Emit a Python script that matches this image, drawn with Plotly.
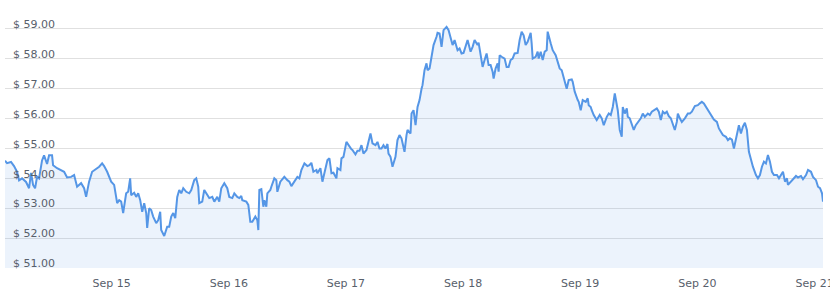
import pandas as pd
import plotly.graph_objects as go

# hours after 2023-09-14 00:00
hours = [
    2.15, 2.56, 3.38, 4.00, 4.62, 5.03, 5.64, 6.46, 7.08, 7.49, 7.90, 8.31, 8.72, 9.13, 9.74,
    10.15, 10.77, 11.18, 11.79, 12.00, 12.82, 13.64, 14.26, 14.87, 15.69, 16.31, 16.92, 17.74,
    18.36, 18.77, 19.38, 20.00, 20.82, 21.44, 22.05, 22.46, 23.08, 23.90,
    24.51, 25.13, 25.54, 25.95, 26.36, 26.97, 27.38, 27.79, 28.00, 28.62, 29.03, 29.44, 29.85,
    30.26, 30.67, 31.08, 31.28, 31.69, 32.10, 32.51, 33.13, 33.54, 33.95, 34.15, 34.77, 35.38,
    35.79, 36.21, 36.62, 37.03, 37.44, 37.85, 38.26, 38.67, 39.28, 39.90, 40.31, 40.92, 41.33,
    41.74, 41.95, 42.56, 42.97, 43.59, 44.00, 44.62, 45.03, 45.64, 46.05, 46.46, 47.08, 47.69,
    48.10, 48.72,
    49.13, 49.74, 50.15, 50.56, 50.77, 51.59, 52.00, 52.41, 52.82, 53.44, 53.85, 54.05, 54.26,
    54.67, 55.08, 55.28, 55.69, 55.90, 56.51, 56.72, 57.33, 57.74, 57.95, 58.56, 58.97, 59.38,
    60.00, 60.41, 60.82, 61.44, 62.05, 62.46, 62.87, 63.49, 64.10, 64.51, 64.92, 65.33, 65.95,
    66.15, 66.77, 67.18, 67.79, 68.21, 68.62, 69.03, 69.44, 70.05, 70.26, 70.87, 71.08, 71.49,
    72.10, 72.51, 73.13, 73.33, 73.95, 74.36,
    74.77, 75.18, 75.59, 76.21, 76.62, 77.03, 77.44, 78.05, 78.46, 78.87, 79.28, 79.69, 80.10,
    80.51, 80.72, 81.13, 81.54, 82.15, 82.56, 82.97, 83.38, 84.00, 84.41, 84.62, 85.23, 85.44,
    85.85, 86.26, 86.67, 87.08, 87.49, 87.69, 88.10, 88.51, 88.72, 89.13, 89.54, 89.95, 90.56,
    90.77, 91.18, 91.59, 92.00, 92.62, 93.03, 93.44, 93.85, 94.26, 94.87, 95.28, 95.69, 96.10,
    96.72, 96.92, 97.54, 97.95,
    98.36, 98.97, 99.18, 99.79, 100.00, 100.41, 100.82, 101.23, 101.64, 102.05, 102.26, 102.67,
    103.08, 103.28, 103.49, 103.90, 104.51, 104.92, 105.33, 105.74, 106.15, 106.56, 107.18,
    107.59, 108.00, 108.41, 108.82, 109.23, 109.85, 110.05, 110.26, 110.87, 111.28, 111.49,
    111.90, 112.31, 112.72, 113.13, 113.33, 113.95, 114.36, 114.97, 115.38, 115.79, 116.21,
    116.82, 117.23, 117.64, 118.26, 118.46, 118.87, 119.49, 119.69, 120.10, 120.51, 121.13,
    121.54, 121.74, 122.15, 122.36, 122.77, 123.38,
    124.00, 124.41, 124.82, 125.44, 125.85, 126.26, 126.67, 127.08, 127.49, 127.69, 128.10,
    128.51, 128.72, 129.13, 129.54, 129.74, 130.15, 130.56, 130.97, 131.38, 131.79, 132.41,
    132.82, 133.23, 133.85, 134.26, 134.67, 135.08, 135.69, 136.10, 136.51, 136.92, 137.33,
    137.74, 138.15, 138.56, 138.97, 139.38, 139.79, 140.00, 140.41, 140.82, 141.44, 142.05,
    142.46, 142.87, 143.49, 144.10, 144.51, 144.92, 145.33, 145.95, 146.36, 146.97, 147.38,
    148.00, 148.41, 148.82, 149.23, 149.85, 150.26, 150.67, 151.08, 151.49, 152.10, 152.51,
    152.92, 153.33, 153.74, 154.15, 154.56, 155.18, 155.38, 156.00, 156.41, 156.82, 157.23,
    157.64, 158.05, 158.46, 158.87, 159.28, 159.69, 160.31, 160.72, 161.13, 161.54, 161.95,
    162.36, 162.56, 163.18, 163.59, 164.21, 164.62, 165.23, 165.64, 166.26, 166.67, 167.28,
    167.69, 168.31, 168.72, 169.13, 169.54, 169.74,
]

prices = [
    54.59, 54.51, 54.55, 54.41, 54.22, 53.93, 54.00, 53.88, 53.67, 54.18, 53.78, 53.67, 54.05, 54.00, 54.60,
    54.77, 54.48, 54.77, 54.77, 54.44, 54.34, 54.28, 54.22, 54.03, 54.05, 54.11, 53.72, 53.84,
    53.67, 53.38, 53.89, 54.22, 54.31, 54.39, 54.50, 54.41, 54.22, 53.89,
    53.78, 53.17, 53.27, 53.22, 52.84, 53.50, 53.55, 54.00, 53.44, 53.52, 53.38, 53.50, 53.27,
    52.88, 53.17, 52.84, 52.34, 53.00, 52.94, 52.72, 52.50, 52.60, 52.88, 52.27, 52.07, 52.38,
    52.38, 52.72, 52.84, 52.67, 53.38, 53.61, 53.50, 53.67, 53.55, 53.50, 53.61, 53.94, 54.00,
    53.72, 53.17, 53.22, 53.61, 53.44, 53.34, 53.38, 53.22, 53.38, 53.22, 53.67, 53.84, 53.67,
    53.38, 53.34,
    53.50, 53.38, 53.34, 53.41, 53.27, 53.22, 53.11, 52.55, 52.55, 52.72, 52.60, 52.27, 53.61,
    53.64, 53.05, 53.27, 53.05, 53.50, 53.61, 53.72, 54.00, 53.94, 53.55, 53.89, 53.97, 54.05,
    53.94, 53.89, 53.74, 53.89, 54.05, 54.00, 54.28, 54.50, 54.41, 54.44, 54.52, 54.22, 54.28,
    54.17, 54.34, 53.89, 54.28, 54.61, 54.67, 54.17, 54.19, 54.00, 54.34, 54.28, 54.67, 54.72,
    55.22, 55.11, 54.97, 54.95, 54.80, 54.92,
    54.92, 55.11, 54.83, 54.95, 55.28, 55.50, 55.17, 55.11, 55.22, 55.00, 55.00, 55.11, 55.00,
    55.15, 54.83, 54.72, 54.39, 54.72, 55.28, 55.45, 55.34, 54.89, 55.45, 55.62, 55.50, 56.17,
    56.28, 55.78, 56.39, 56.62, 57.00, 57.12, 57.62, 57.85, 57.62, 57.68, 58.07, 58.46, 58.74,
    58.87, 58.85, 58.40, 58.96, 59.07, 58.96, 58.68, 58.46, 58.63, 58.29, 58.35, 58.18, 58.20,
    58.52, 58.63, 58.24, 58.40,
    58.63, 58.46, 58.54, 57.96, 57.73, 57.96, 58.18, 57.79, 57.79, 57.57, 57.34, 57.68,
    57.85, 57.57, 58.12, 58.07, 58.01, 57.73, 57.73, 57.96, 58.01, 58.18, 58.20,
    58.63, 58.91, 58.79, 58.46, 58.57, 58.87, 58.52, 58.01, 58.07, 58.24, 58.01,
    58.24, 57.96, 58.24, 58.29, 58.91, 58.52, 58.29, 58.12, 57.90, 57.68, 57.62,
    57.29, 57.00, 57.29, 57.31, 57.23, 56.90, 56.62, 56.56, 56.28, 56.62, 56.56,
    56.68, 56.45, 56.39, 56.28, 56.12, 55.95,
    56.12, 56.01, 55.78, 56.06, 56.17, 56.12, 56.39, 56.84, 56.45, 56.28, 55.62,
    55.39, 56.39, 56.17, 56.34, 56.06, 56.01, 55.84, 55.62, 55.78, 55.89, 56.01,
    56.17, 56.06, 56.17, 56.12, 56.23, 56.28, 56.34, 56.23, 55.95, 56.23, 56.17,
    56.23, 56.08, 56.01, 55.84, 55.62, 55.89, 56.17, 56.01, 55.89, 56.01, 56.17,
    56.17, 56.23, 56.42, 56.45, 56.51, 56.56, 56.51, 56.34, 56.23, 56.06, 55.97,
    55.89, 55.67, 55.56, 55.45, 55.39, 55.28, 55.34, 55.30, 55.00, 55.45, 55.78,
    55.50, 55.73, 55.86, 55.62, 54.89, 54.50, 54.39, 54.11, 54.00, 54.11, 54.39,
    54.56, 54.50, 54.78, 54.56, 54.22, 54.11, 54.11, 54.00, 54.11, 54.22, 53.89,
    54.00, 53.78, 53.89, 53.94, 54.08, 54.03, 54.08, 53.97, 54.11, 54.28, 54.22,
    54.05, 53.94, 53.72, 53.67, 53.50, 53.22,
]

y_ticks = [51, 52, 53, 54, 55, 56, 57, 58, 59]
y_tick_text = ["$ 51.00", "$ 52.00", "$ 53.00", "$ 54.00", "$ 55.00",
               "$ 56.00", "$ 57.00", "$ 58.00", "$ 59.00"]
start = pd.Timestamp("2023-09-14 00:00")
times = start + pd.to_timedelta(hours, unit="h")

fig = go.Figure(
    go.Scatter(
        x=times,
        y=prices,
        mode="lines",
        line=dict(color="#5596e6", width=2),
        fill="tozeroy",
        fillcolor="rgba(85,150,230,0.11)",
        hoverinfo="skip",
    )
)

font_color = "#58606b"
fig.update_layout(
    width=830,
    height=305,
    margin=dict(l=5, r=7, t=20, b=37),
    paper_bgcolor="white",
    plot_bgcolor="white",
    showlegend=False,
    font=dict(family="DejaVu Sans, Verdana, sans-serif", size=11, color=font_color),
)
fig.update_xaxes(
    range=[times[0], times[-1]],
    tickformat="%b %d",
    dtick=86400000,
    tick0="2023-09-15",
    showgrid=False,
    showline=False,
    zeroline=False,
    ticks="",
    automargin=False,
    ticklabelstandoff=7,
    ticklabeloverflow="allow",
    tickfont=dict(size=11, color=font_color),
)
fig.update_yaxes(
    range=[51, 59.3],
    tickvals=y_ticks,
    ticktext=y_tick_text,
    ticklabelposition="inside top",
    ticklabeloverflow="allow",
    ticklabelstandoff=5,
    ticklabelshift=3,
    automargin=False,
    showgrid=True,
    gridcolor="#e0e0e0",
    gridwidth=1,
    zeroline=False,
    showline=False,
    ticks="",
    tickfont=dict(size=11, color=font_color),
)

fig.write_html("out.html")
